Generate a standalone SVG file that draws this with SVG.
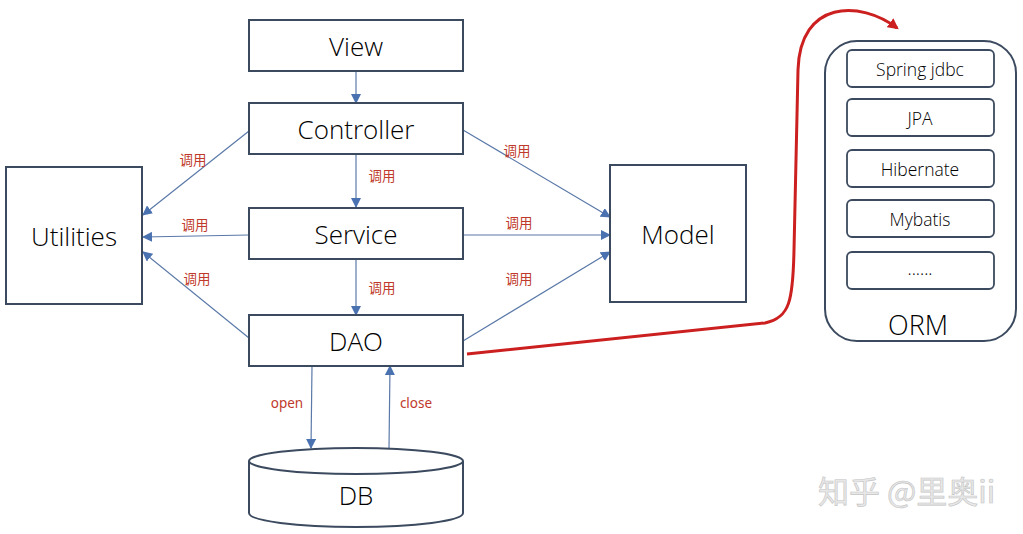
<svg xmlns="http://www.w3.org/2000/svg" width="1023" height="534" viewBox="0 0 1023 534">
<defs>
<style>
.box{fill:#fff;stroke:#3b4a5e;stroke-width:2}
.inner{fill:#fff;stroke:#3b4a5e;stroke-width:1.8}
.t{font-family:"Open Sans","Noto Sans","Liberation Sans",sans-serif;font-weight:300;fill:#000;text-anchor:middle;dominant-baseline:central}
.big{font-size:26px}
.sm{font-size:17.5px}
.lbl{font-family:"Noto Sans","Noto Sans CJK SC",sans-serif;fill:#c0392b;font-size:13.5px;text-anchor:middle;dominant-baseline:central}
.ln{stroke:#5a79a8;stroke-width:1.2;fill:none;marker-end:url(#ah)}
.wm{font-family:"Noto Sans CJK SC","Noto Sans",sans-serif;font-size:31px;fill:#e8e8e8;stroke:#c4c4c4;stroke-width:0.6}
</style>
<marker id="ah" viewBox="0 0 10 10" refX="9" refY="5" markerWidth="10" markerHeight="10" markerUnits="userSpaceOnUse" orient="auto">
<path d="M0,0 L10,5 L0,10 z" fill="#4a72b0"/>
</marker>
<marker id="rah" viewBox="0 0 10 10" refX="8" refY="5" markerWidth="11" markerHeight="11" markerUnits="userSpaceOnUse" orient="auto">
<path d="M0,0 L10,5 L0,10 z" fill="#cc1f1f"/>
</marker>
</defs>
<rect width="1023" height="534" fill="#fff"/>

<g id="connectors">
<line class="ln" x1="356" y1="71" x2="356" y2="103"/>
<line class="ln" x1="356" y1="154" x2="356" y2="207"/>
<line class="ln" x1="356" y1="259" x2="356" y2="315"/>
<line class="ln" x1="249" y1="131" x2="143" y2="215"/>
<line class="ln" x1="249" y1="235" x2="143" y2="237"/>
<line class="ln" x1="249" y1="338" x2="143" y2="252"/>
<line class="ln" x1="463" y1="130" x2="610" y2="217"/>
<line class="ln" x1="463" y1="235" x2="610" y2="235"/>
<line class="ln" x1="463" y1="341" x2="610" y2="252"/>
<line class="ln" x1="312" y1="366" x2="311" y2="448"/>
<line class="ln" x1="389" y1="448" x2="390" y2="366"/>
<path d="M467,354 L765,323 C790,318 793,300 794,250 L798,70 C800,0 860,0 897,28" fill="none" stroke="#cc1f1f" stroke-width="3" marker-end="url(#rah)"/>
<text class="lbl" x="382" y="176">调用</text>
<text class="lbl" x="382" y="288">调用</text>
<text class="lbl" x="193" y="160">调用</text>
<text class="lbl" x="195" y="225">调用</text>
<text class="lbl" x="197" y="279">调用</text>
<text class="lbl" x="517" y="151">调用</text>
<text class="lbl" x="519" y="223">调用</text>
<text class="lbl" x="519" y="279">调用</text>
<text class="lbl" x="287" y="403">open</text>
<text class="lbl" x="416" y="403">close</text>
</g>

<g id="view"><rect class="box" x="249" y="20" width="214" height="51"/><text class="t big" x="356" y="46">View</text></g>
<g id="controller"><rect class="box" x="249" y="103" width="214" height="51"/><text class="t big" x="356" y="129">Controller</text></g>
<g id="service"><rect class="box" x="249" y="208" width="214" height="51"/><text class="t big" x="356" y="234">Service</text></g>
<g id="dao"><rect class="box" x="249" y="315" width="214" height="51"/><text class="t big" x="356" y="341">DAO</text></g>
<g id="utilities"><rect class="box" x="6" y="167" width="136" height="137"/><text class="t big" x="74" y="236">Utilities</text></g>
<g id="model"><rect class="box" x="610" y="165" width="136" height="137"/><text class="t big" x="678" y="234">Model</text></g>
<g id="db">
<path class="box" d="M249,461 L249,513 A107,14 0 0 0 463,513 L463,461"/>
<ellipse class="box" cx="356" cy="461" rx="107" ry="13"/>
<text class="t big" x="356" y="495">DB</text>
</g>
<g id="orm">
<rect class="box" x="825" y="41" width="191" height="300" rx="32"/>
<text class="t" x="918" y="324" font-size="27">ORM</text>
<g id="spring"><rect class="inner" x="847" y="50" width="147" height="37" rx="5"/><text class="t sm" x="920" y="69">Spring jdbc</text></g>
<g id="jpa"><rect class="inner" x="847" y="99" width="147" height="37" rx="5"/><text class="t sm" x="920" y="118">JPA</text></g>
<g id="hibernate"><rect class="inner" x="847" y="150" width="147" height="37" rx="5"/><text class="t sm" x="920" y="169">Hibernate</text></g>
<g id="mybatis"><rect class="inner" x="847" y="200" width="147" height="37" rx="5"/><text class="t sm" x="920" y="219">Mybatis</text></g>
<g id="more"><rect class="inner" x="847" y="252" width="147" height="37" rx="5"/><text class="t sm" x="920" y="268">......</text></g>
</g>
<text class="wm" x="818" y="503">知乎 @里奥ii</text>
</svg>
